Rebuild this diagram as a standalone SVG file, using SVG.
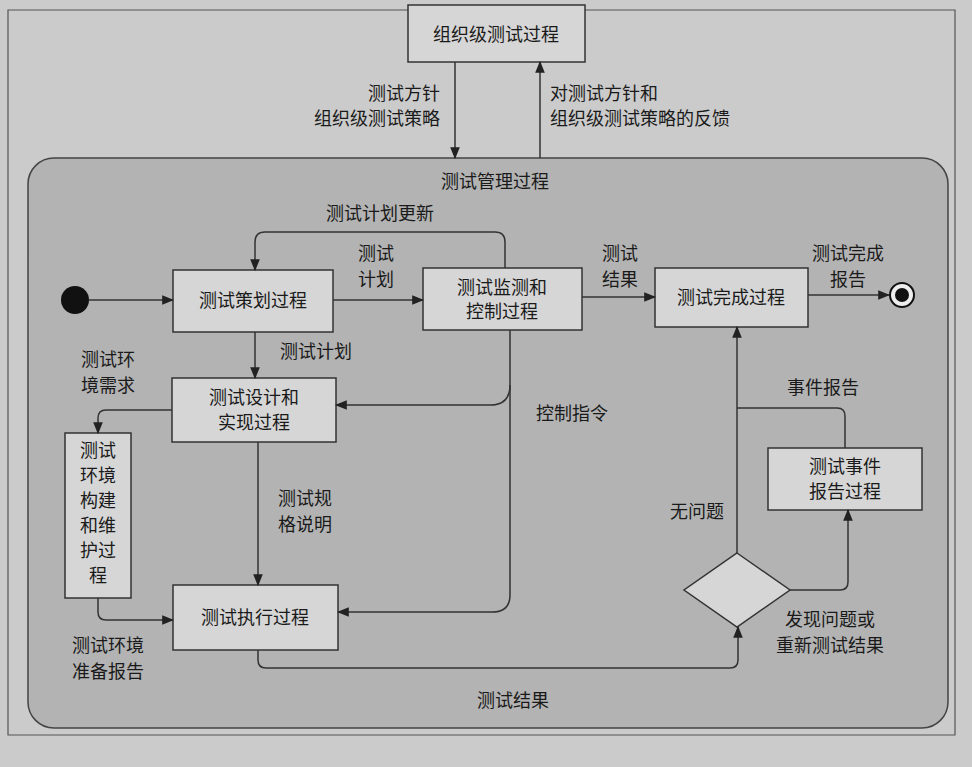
<svg xmlns="http://www.w3.org/2000/svg" width="972" height="767" viewBox="0 0 972 767">
<defs>
<marker id="a" viewBox="0 0 10 10" refX="9" refY="5" markerWidth="8" markerHeight="8" orient="auto-start-reverse"><path d="M0,1 L10,5 L0,9 z" fill="#222"/></marker>
<style>
.b{fill:#d6d6d6;stroke:#333;stroke-width:1.5}
.t{font-family:"Noto Sans CJK SC",sans-serif;font-size:18px;fill:#1a1a1a}
.c{fill:none;stroke:#333;stroke-width:1.5}
</style>
</defs>
<rect width="972" height="767" fill="#cbcbcb"/>
<path d="M585,10 H955 V735 H8 V10 H408" fill="none" stroke="#555" stroke-width="1.2"/>
<rect x="28" y="158" width="920" height="570" rx="26" fill="#b3b3b3" stroke="#444" stroke-width="1.5"/>
<text class="t" x="495" y="188" text-anchor="middle">测试管理过程</text>
<g id="org"><rect class="b" x="408" y="5" width="177" height="57"/><text class="t" x="496" y="41" text-anchor="middle">组织级测试过程</text></g>
<g id="start"><circle cx="75" cy="300" r="14" fill="#111"/></g>
<g id="end"><circle cx="902" cy="295" r="12" fill="#eee" stroke="#111" stroke-width="2"/><circle cx="902" cy="295" r="7" fill="#111"/></g>
<g id="plan"><rect class="b" x="173" y="270" width="160" height="62"/><text class="t" x="253" y="307" text-anchor="middle">测试策划过程</text></g>
<g id="mon"><rect class="b" x="423" y="268" width="159" height="62"/><text class="t" x="502" y="294" text-anchor="middle">测试监测和</text><text class="t" x="502" y="318" text-anchor="middle">控制过程</text></g>
<g id="comp"><rect class="b" x="655" y="268" width="153" height="59"/><text class="t" x="731" y="304" text-anchor="middle">测试完成过程</text></g>
<g id="design"><rect class="b" x="172" y="378" width="164" height="64"/><text class="t" x="254" y="404" text-anchor="middle">测试设计和</text><text class="t" x="254" y="429" text-anchor="middle">实现过程</text></g>
<g id="env"><rect class="b" x="65" y="433" width="66" height="165"/>
<text class="t" x="98" y="457" text-anchor="middle">测试</text><text class="t" x="98" y="482" text-anchor="middle">环境</text><text class="t" x="98" y="507" text-anchor="middle">构建</text><text class="t" x="98" y="532" text-anchor="middle">和维</text><text class="t" x="98" y="557" text-anchor="middle">护过</text><text class="t" x="98" y="582" text-anchor="middle">程</text></g>
<g id="exec"><rect class="b" x="173" y="585" width="165" height="65"/><text class="t" x="255" y="624" text-anchor="middle">测试执行过程</text></g>
<g id="inc"><rect class="b" x="768" y="448" width="154" height="62"/><text class="t" x="845" y="473" text-anchor="middle">测试事件</text><text class="t" x="845" y="498" text-anchor="middle">报告过程</text></g>
<g id="dec"><polygon class="b" points="737,553 790,590 737,627 684,590"/></g>
<g id="conn">
<path class="c" d="M455,62 V158" marker-end="url(#a)"/>
<path class="c" d="M540,158 V62" marker-end="url(#a)"/>
<path class="c" d="M89,300 H173" marker-end="url(#a)"/>
<path class="c" d="M505,268 V242 Q505,232 495,232 H265 Q255,232 255,242 V270" marker-end="url(#a)"/>
<path class="c" d="M333,300 H423" marker-end="url(#a)"/>
<path class="c" d="M582,297 H655" marker-end="url(#a)"/>
<path class="c" d="M808,295 H889" marker-end="url(#a)"/>
<path class="c" d="M255,332 V378" marker-end="url(#a)"/>
<path class="c" d="M510,330 V595 Q510,612 492,612 H338" marker-end="url(#a)"/>
<path class="c" d="M510,385 Q510,405 490,405 H336" marker-end="url(#a)"/>
<path class="c" d="M258,442 V585" marker-end="url(#a)"/>
<path class="c" d="M172,410 H106 Q98,410 98,418 V433" marker-end="url(#a)"/>
<path class="c" d="M98,598 V612 Q98,620 106,620 H173" marker-end="url(#a)"/>
<path class="c" d="M258,650 V660 Q258,668 266,668 H730 Q738,668 738,660 V627" marker-end="url(#a)"/>
<path class="c" d="M737,553 V327" marker-end="url(#a)"/>
<path class="c" d="M790,590 H840 Q848,590 848,582 V510" marker-end="url(#a)"/>
<path class="c" d="M845,448 V416 Q845,408 837,408 H737"/>
</g>
<g id="labels">
<text class="t" x="440" y="100" text-anchor="end">测试方针</text>
<text class="t" x="440" y="125" text-anchor="end">组织级测试策略</text>
<text class="t" x="550" y="100">对测试方针和</text>
<text class="t" x="550" y="125">组织级测试策略的反馈</text>
<text class="t" x="380" y="220" text-anchor="middle">测试计划更新</text>
<text class="t" x="376" y="260" text-anchor="middle">测试</text>
<text class="t" x="376" y="286" text-anchor="middle">计划</text>
<text class="t" x="620" y="260" text-anchor="middle">测试</text>
<text class="t" x="620" y="286" text-anchor="middle">结果</text>
<text class="t" x="848" y="260" text-anchor="middle">测试完成</text>
<text class="t" x="848" y="286" text-anchor="middle">报告</text>
<text class="t" x="316" y="358" text-anchor="middle">测试计划</text>
<text class="t" x="108" y="366" text-anchor="middle">测试环</text>
<text class="t" x="108" y="392" text-anchor="middle">境需求</text>
<text class="t" x="572" y="420" text-anchor="middle">控制指令</text>
<text class="t" x="305" y="505" text-anchor="middle">测试规</text>
<text class="t" x="305" y="531" text-anchor="middle">格说明</text>
<text class="t" x="108" y="652" text-anchor="middle">测试环境</text>
<text class="t" x="108" y="678" text-anchor="middle">准备报告</text>
<text class="t" x="513" y="707" text-anchor="middle">测试结果</text>
<text class="t" x="697" y="518" text-anchor="middle">无问题</text>
<text class="t" x="823" y="394" text-anchor="middle">事件报告</text>
<text class="t" x="830" y="626" text-anchor="middle">发现问题或</text>
<text class="t" x="830" y="652" text-anchor="middle">重新测试结果</text>
</g>
</svg>
